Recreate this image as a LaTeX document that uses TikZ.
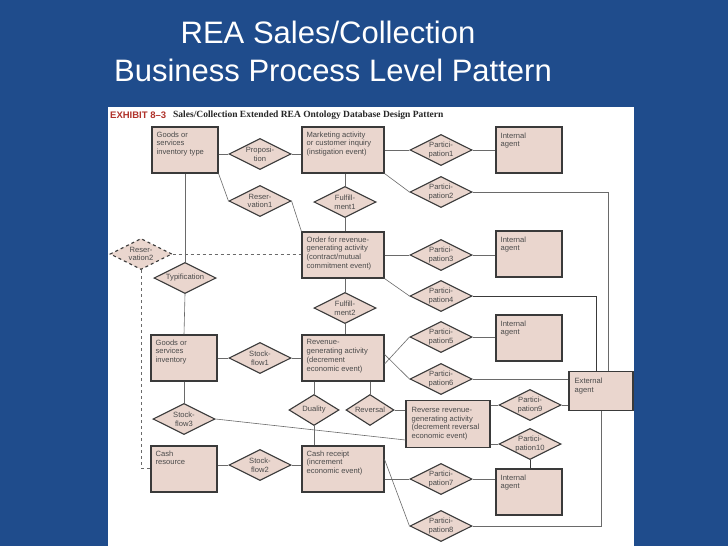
\documentclass[tikz,border=0pt]{standalone}
\usepackage{fontspec}
\setmainfont{Liberation Sans}
\newfontfamily\serifb{Liberation Serif}
\usetikzlibrary{shapes.geometric}
\definecolor{bg}{HTML}{1F4C8C}
\definecolor{boxfill}{HTML}{EAD6CE}
\definecolor{edge}{HTML}{3A3A3A}
\definecolor{ln}{HTML}{6A6A6A}
\definecolor{txt}{HTML}{4A4A4A}
\definecolor{exred}{HTML}{B0322A}
\tikzset{
 x=1pt,y=-1pt,
 ebox/.style={draw=edge,line width=1.1pt,fill=boxfill,minimum width=66pt,minimum height=46pt,inner sep=0pt},
 btext/.style={anchor=north west,align=left,font=\fontsize{7.6}{8.8}\selectfont,text=txt,inner sep=0pt},
 dia/.style={diamond,draw=edge,line width=1.1pt,fill=boxfill,aspect=2,minimum width=62pt,minimum height=31pt,inner sep=0pt},
 dtext/.style={align=center,font=\fontsize{7.6}{8.6}\selectfont,text=txt,inner sep=0pt},
 conn/.style={draw=ln,line width=0.6pt},
 dconn/.style={draw=ln,line width=0.7pt,dashed},
}
\newcommand{\Dia}[4]{\node[dia,#4,label={[dtext]center:#3}] (#1) at #2 {};}
\begin{document}
\begin{tikzpicture}
\useasboundingbox (0,0) rectangle (728,546);
\fill[bg] (0,0) rectangle (728,546);
\fill[white] (108,107) rectangle (634,546);
\node[text=white,font=\fontsize{31}{33}\selectfont] (t1) at (328,32) {REA Sales/Collection};
\node[text=white,font=\fontsize{31}{33}\selectfont] (t2) at (333,70) {Business Process Level Pattern};
\node[anchor=west,text=exred,font=\bfseries\fontsize{9.5}{10}\selectfont,inner sep=0pt] (ex) at (110,115) {EXHIBIT 8–3};
\node[anchor=west,font=\serifb\bfseries\fontsize{9.5}{10}\selectfont,inner sep=0pt,text=black!85] (ext) at (173,115) {Sales/Collection Extended REA Ontology Database Design Pattern};
% boxes
\node[ebox] (gt) at (185,150) {};
\node[ebox,minimum width=82pt] (mk) at (343,150) {};
\node[ebox,minimum width=82pt] (od) at (343,255) {};
\node[ebox] (gi) at (184,358) {};
\node[ebox,minimum width=82pt] (rv) at (343,358) {};
\node[ebox] (cr) at (184,469) {};
\node[ebox,minimum width=82pt] (cx) at (343,469) {};
\node[ebox] (ia1) at (529,150) {};
\node[ebox] (ia2) at (529,254) {};
\node[ebox] (ia3) at (529,338) {};
\node[ebox] (ia4) at (529,492) {};
\node[ebox,minimum width=64pt,minimum height=39pt] (ea) at (601,391) {};
\node[ebox,minimum width=84pt,minimum height=47pt] (rr) at (448,424) {};
\node[btext] (gtt) at ([shift={(5,5)}]gt.north west) {Goods or\\services\\inventory type};
\node[btext] (mkt) at ([shift={(5,5)}]mk.north west) {Marketing activity\\or customer inquiry\\(instigation event)};
\node[btext] (odt) at ([shift={(5,5)}]od.north west) {Order for revenue-\\generating activity\\(contract/mutual\\commitment event)};
\node[btext] (git) at ([shift={(5,5)}]gi.north west) {Goods or\\services\\inventory};
\node[btext] (rvt) at ([shift={(5,5)}]rv.north west) {Revenue-\\generating activity\\(decrement\\economic event)};
\node[btext] (crt) at ([shift={(5,5)}]cr.north west) {Cash\\resource};
\node[btext] (cxt) at ([shift={(5,5)}]cx.north west) {Cash receipt\\(increment\\economic event)};
\node[btext] (ia1t) at ([shift={(5,6)}]ia1.north west) {Internal\\agent};
\node[btext] (ia2t) at ([shift={(5,6)}]ia2.north west) {Internal\\agent};
\node[btext] (ia3t) at ([shift={(5,6)}]ia3.north west) {Internal\\agent};
\node[btext] (ia4t) at ([shift={(5,6)}]ia4.north west) {Internal\\agent};
\node[btext] (eat) at ([shift={(6,7)}]ea.north west) {External\\agent};
\node[btext] (rrt) at ([shift={(6,7)}]rr.north west) {Reverse revenue-\\generating activity\\(decrement reversal\\economic event)};
% diamonds
\Dia{pro}{(260,154)}{Proposi-\\tion}{}
\Dia{re1}{(260,201)}{Reser-\\vation1}{}
\Dia{fu1}{(345,202)}{Fulfill-\\ment1}{}
\Dia{fu2}{(345,308)}{Fulfill-\\ment2}{}
\Dia{re2}{(141,254)}{Reser-\\vation2}{dashed}
\Dia{ty}{(185,278)}{Typification}{}
\Dia{sf1}{(260,358)}{Stock-\\flow1}{}
\Dia{sf3}{(184,419)}{Stock-\\flow3}{}
\Dia{sf2}{(260,465)}{Stock-\\flow2}{}
\Dia{du}{(314,410)}{Duality}{minimum width=50pt}
\Dia{rs}{(370,410)}{Reversal}{minimum width=48pt}
\Dia{p1}{(441,150)}{Partici-\\pation1}{}
\Dia{p2}{(441,192)}{Partici-\\pation2}{}
\Dia{p3}{(441,255)}{Partici-\\pation3}{}
\Dia{p4}{(441,296)}{Partici-\\pation4}{}
\Dia{p5}{(441,337)}{Partici-\\pation5}{}
\Dia{p6}{(441,379)}{Partici-\\pation6}{}
\Dia{p9}{(530,405)}{Partici-\\pation9}{}
\Dia{p10}{(530,444)}{Partici-\\pation10}{}
\Dia{p7}{(441,479)}{Partici-\\pation7}{}
\Dia{p8}{(441,526)}{Partici-\\pation8}{}
% connectors
\draw[conn] (gt.east |- pro) -- (pro.west);
\draw[conn] (pro.east) -- (mk.west |- pro);
\draw[conn] (gt.south east) -- (re1.west);
\draw[conn] (re1.east) -- (od.north west);
\draw[conn] (mk.south -| fu1) -- (fu1.north);
\draw[conn] (fu1.south) -- (od.north -| fu1);
\draw[conn] (od.south -| fu2) -- (fu2.north);
\draw[conn] (fu2.south) -- (rv.north -| fu2);
\draw[conn] (gt.south) -- (ty.north);
\draw[conn] (ty.south) -- (gi.north);
\draw[dconn] (re2.east) -- (od.west |- re2);
\coordinate (dc) at (141,468);
\draw[dconn] (re2.south) -- (dc) -- (cr.west |- dc);
\draw[conn] (gi.east) -- (sf1.west);
\draw[conn] (sf1.east) -- (rv.west);
\draw[conn] (gi.south) -- (sf3.north);
\draw[conn] (sf3.east) -- (rr.west |- 0,440);
\draw[conn] (cr.east |- sf2) -- (sf2.west);
\draw[conn] (sf2.east) -- (cx.west |- sf2);
\draw[conn] (rv.south -| du) -- (du.north);
\draw[conn] (du.south) -- (cx.north -| du);
\draw[conn] (rv.south -| rs) -- (rs.north);
\draw[conn] (rs.east) -- (rr.west |- rs);
\draw[conn] (mk.east |- p1) -- (p1.west);
\draw[conn] (p1.east) -- (ia1.west |- p1);
\draw[conn] (mk.south east) -- (p2.west);
\coordinate (c2) at (608,192);
\draw[conn] (p2.east) -- (c2) -- (ea.north -| c2);
\draw[conn] (od.east |- p3) -- (p3.west);
\draw[conn] (p3.east) -- (ia2.west |- p3);
\draw[conn] (od.south east) -- (p4.west);
\coordinate (c4) at (596,296);
\draw[conn,draw=edge] (p4.east) -- (c4) -- (ea.north -| c4);
\draw[conn] ([yshift=-6]rv.east) -- (p5.west);
\draw[conn] (p5.east) -- (ia3.west |- p5);
\draw[conn] ([yshift=-20]rv.north east) -- (p6.west);
\draw[conn] (p6.east) -- (ea.west |- p6);
\draw[conn] (rr.east |- p9) -- (p9.west);
\draw[conn] (p9.east) -- (ea.west |- p9);
\draw[conn] (rr.east |- p10) -- (p10.west);
\draw[conn,draw=edge] (p10.south) -- (ia4.north -| p10);
\draw[conn] (cx.east |- p7) -- (p7.west);
\draw[conn] (p7.east) -- (ia4.west |- p7);
\draw[conn] ([yshift=-14]cx.north east) -- (p8.west);
\coordinate (c8) at (601,526);
\draw[conn] (ea.south) -- (c8) -- (p8.east);
\end{tikzpicture}
\end{document}
